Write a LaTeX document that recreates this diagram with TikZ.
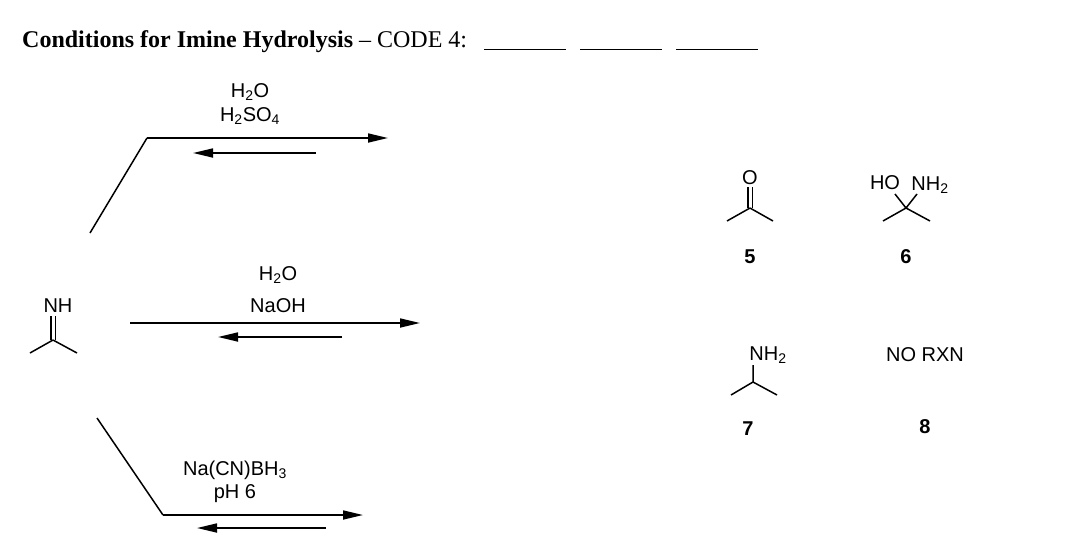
\documentclass[tikz,border=0pt]{standalone}
\usepackage{fontspec}
\setmainfont{Liberation Serif}
\newfontfamily\hv{Liberation Sans}
\usetikzlibrary{arrows.meta}
\newcommand{\subx}[1]{\textsubscript{#1}}
\begin{document}
\begin{tikzpicture}[x=1pt,y=-1pt,
  bond/.style={line width=1.5pt},
  rxn/.style={line width=1.7pt,-{Triangle[length=20pt,width=9pt]}},
  lab/.style={font=\hv\fontsize{20}{20}\selectfont,inner sep=0pt},
  num/.style={font=\hv\bfseries\fontsize{20}{20}\selectfont,inner sep=0pt}]
\useasboundingbox (0,0) rectangle (1074,549);
\node[anchor=base west,inner sep=0pt,font=\fontsize{24}{24}\selectfont] (title) at (22,47) {\textbf{Conditions for Imine Hydrolysis} -- CODE 4:};
\foreach \a/\b in {484/566,580/662,676/758}{\draw[line width=0.9pt] (\a,49) -- (\b,49);}
% reaction 1
\coordinate (b1s) at (90,233); \coordinate (b1k) at (147,138); \coordinate (a1e) at (388,138);
\draw[bond] (b1s) -- (b1k);
\draw[rxn] (b1k) -- (a1e);
\coordinate (r1s) at (316,153); \coordinate (r1e) at (193,153);
\draw[rxn] (r1s) -- (r1e);
\node[lab] (t1a) at (250,92) {H\subx{2}O};
\node[lab] (t1b) at (250,116) {H\subx{2}SO\subx{4}};
% reaction 2
\coordinate (a2s) at (130,323); \coordinate (a2e) at (420,323);
\draw[rxn] (a2s) -- (a2e);
\coordinate (r2s) at (342,337); \coordinate (r2e) at (218,337);
\draw[rxn] (r2s) -- (r2e);
\node[lab] (t2a) at (278,275) {H\subx{2}O};
\node[lab] (t2b) at (278,306) {NaOH};
% reaction 3
\coordinate (b3s) at (97,418); \coordinate (b3k) at (163,515); \coordinate (a3e) at (363,515);
\draw[bond] (b3s) -- (b3k);
\draw[rxn] (b3k) -- (a3e);
\coordinate (r3s) at (326,528); \coordinate (r3e) at (197,528);
\draw[rxn] (r3s) -- (r3e);
\node[lab] (t3a) at (235,470) {Na(CN)BH\subx{3}};
\node[lab] (t3b) at (235,494) {pH 6};
% imine
\node[lab] (nh) at (58,306) {NH};
\coordinate (ic) at (53,340);
\draw[bond] (ic) -- (30,353) (ic) -- (77,353);
\draw[bond] (51,340) -- (51,316) (55.5,340) -- (55.5,316);
% 5 acetone
\node[lab] (o5) at (750,178) {O};
\coordinate (c5) at (750,208);
\draw[bond] (c5) -- (727,221) (c5) -- (773,221);
\draw[bond] (748,208) -- (748,187) (752.5,208) -- (752.5,187);
\node[num] (n5) at (750,257) {5};
% 6
\node[lab] (ho6) at (885,183) {HO};
\node[lab] (nh6) at (930,185) {NH\subx{2}};
\coordinate (c6) at (906,208);
\draw[bond] (c6) -- (883,221) (c6) -- (930,221) (c6) -- (895,194) (c6) -- (917,194);
\node[num] (n6) at (906,257) {6};
% 7
\node[lab] (nh7) at (768,355) {NH\subx{2}};
\coordinate (c7) at (753,382);
\draw[bond] (c7) -- (731,395) (c7) -- (777,395) (c7) -- (753,365);
\node[num] (n7) at (748,429) {7};
% 8
\node[lab] (nr) at (925,355) {NO RXN};
\node[num] (n8) at (925,427) {8};
\end{tikzpicture}
\end{document}
